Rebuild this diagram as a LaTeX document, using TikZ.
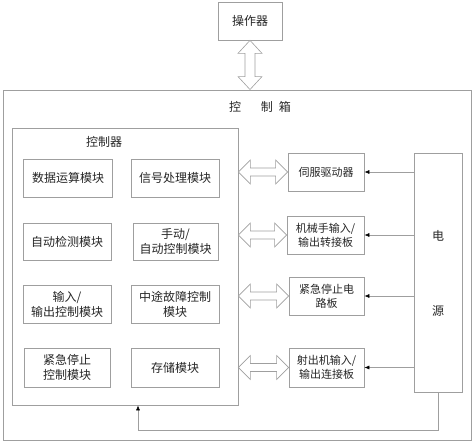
\documentclass[tikz,border=0pt]{standalone}
\usepackage{fontspec}
\newfontfamily\cjk{Noto Sans CJK SC}
\usetikzlibrary{arrows.meta,calc}
\tikzset{
  box/.style={draw=gray!75, line width=0.7pt, inner sep=0pt, align=center, font=\cjk\fontsize{12}{15}\selectfont, text=black!85},
  sbox/.style={box, font=\cjk\fontsize{11}{14}\selectfont},
  conn/.style={draw=gray!75, line width=0.6pt, -{Latex[length=5pt,width=4pt,black]}},
  barrow/.style={draw=gray!75, line width=0.6pt, fill=white},
}
\newcommand\hdarr[2]{%
  \path[barrow] let \p1=(#1), \p2=(#2) in
   (\x1,\y2) -- (\x1+12pt,\y2+12pt) -- (\x1+12pt,\y2+4pt) -- (\x2-12pt,\y2+4pt)
   -- (\x2-12pt,\y2+12pt) -- (\x2,\y2) -- (\x2-12pt,\y2-12pt) -- (\x2-12pt,\y2-4pt)
   -- (\x1+12pt,\y2-4pt) -- (\x1+12pt,\y2-12pt) -- cycle;}
\begin{document}
\begin{tikzpicture}[x=1pt,y=-1pt]
\useasboundingbox[fill=white] (0,0) rectangle (474,445);
% operator
\node[box, minimum width=64pt, minimum height=38pt] (op) at (250,21) {操作器};
% control box
\node[box, line width=0.9pt, minimum width=468pt, minimum height=350pt] (cb) at (237,265) {};
\node[font=\cjk\fontsize{12}{15}\selectfont, text=black!85] (cbt) at (260,107) {控\hspace{20pt}制\hspace{6pt}箱};
% vertical block arrow
\path[barrow] let \p1=(op.south), \p2=(cb.north) in
  (\x1,\y1) -- (\x1+12pt,\y1-13pt) -- (\x1+5pt,\y1-13pt) -- (\x1+5pt,\y2+13pt)
  -- (\x1+12pt,\y2+13pt) -- (\x1,\y2) -- (\x1-12pt,\y2+13pt) -- (\x1-5pt,\y2+13pt)
  -- (\x1-5pt,\y1-13pt) -- (\x1-12pt,\y1-13pt) -- cycle;
% controller
\node[box, minimum width=226pt, minimum height=277pt] (ctrl) at (125,266.5) {};
\node[font=\cjk\fontsize{12}{15}\selectfont, text=black!85] (ctrlt) at (104,142) {控制器};
% modules
\node[box, minimum width=89pt, minimum height=38pt] (m1) at (68,178) {数据运算模块};
\node[box, minimum width=88pt, minimum height=38pt] (m2) at (175,178) {信号处理模块};
\node[box, minimum width=88pt, minimum height=37pt] (m3) at (67,241.5) {自动检测模块};
\node[box, minimum width=85pt, minimum height=37pt] (m4) at (175.5,241.5) {手动/\\自动控制模块};
\node[box, minimum width=88pt, minimum height=38pt] (m5) at (67,304) {输入/\\输出控制模块};
\node[box, minimum width=88pt, minimum height=38pt] (m6) at (175,304) {中途故障控制\\模块};
\node[box, minimum width=86pt, minimum height=39pt] (m7) at (67,367.5) {紧急停止\\控制模块};
\node[box, minimum width=88pt, minimum height=39pt] (m8) at (175,367.5) {存储模块};
% right boxes
\node[sbox, minimum width=76pt, minimum height=38pt] (r1) at (326,172) {伺服驱动器};
\node[sbox, minimum width=77pt, minimum height=38pt] (r2) at (325.5,235) {机械手输入/\\输出转接板};
\node[sbox, minimum width=75pt, minimum height=38pt] (r3) at (326.5,296) {紧急停止电\\路板};
\node[sbox, minimum width=75pt, minimum height=39pt] (r4) at (326.5,367.5) {射出机输入/\\输出连接板};
% power
\node[box, minimum width=48pt, minimum height=239pt] (pw) at (438,272.5) {};
\node[font=\cjk\fontsize{12}{15}\selectfont, text=black!85] (pw1) at (438,236) {电};
\node[font=\cjk\fontsize{12}{15}\selectfont, text=black!85] (pw2) at (438,311) {源};
% block arrows
\hdarr{ctrl.east}{r1.west}
\hdarr{ctrl.east}{r2.west}
\hdarr{ctrl.east}{r3.west}
\hdarr{ctrl.east}{r4.west}
% power lines
\draw[conn] (pw.west |- r1.east) -- (r1.east);
\draw[conn] (pw.west |- r2.east) -- (r2.east);
\draw[conn] (pw.west |- r3.east) -- (r3.east);
\draw[conn] (pw.west |- r4.east) -- (r4.east);
\coordinate (fb) at (138,430);
\draw[conn] (pw.south) |- (fb) -- (fb |- ctrl.south);
\end{tikzpicture}
\end{document}
